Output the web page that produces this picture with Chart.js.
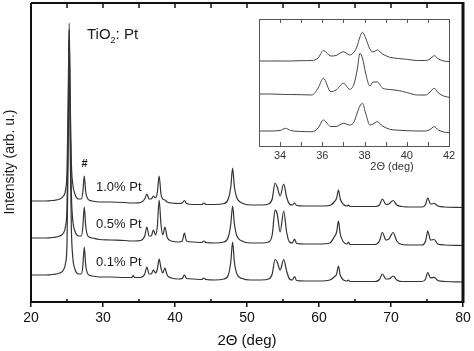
<!DOCTYPE html>
<html>
<head>
<meta charset="utf-8">
<script src="https://cdn.jsdelivr.net/npm/chart.js@4.4.0/dist/chart.umd.min.js"></script>
<style>
  html, body { margin: 0; padding: 0; background: #fff; }
  #wrap { position: relative; width: 474px; height: 351px; }
  #main { position: absolute; left: 0; top: 0; }
  #inset { position: absolute; left: 250px; top: 15px; }
</style>
</head>
<body>
<div id="wrap">
  <canvas id="main" width="474" height="351"></canvas>
  <canvas id="inset" width="210" height="165"></canvas>
</div>
<script>
// 2-theta grid of the main pattern (deg)
const twoTheta = [20, 21, 22, 23, 24, 24.5, 24.8, 25.0, 25.15, 25.3,
  25.45, 25.6, 25.8, 26.1, 26.6, 27.0, 27.2, 27.4, 27.6, 27.9,
  28.5, 29.5, 31, 33, 34.0, 34.2, 34.4, 35.2, 35.8, 36.1,
  36.4, 36.7, 37.0, 37.3, 37.55, 37.8, 38.05, 38.3, 38.6, 38.9,
  39.5, 40.5, 41.0, 41.3, 41.6, 42.5, 43.7, 44.0, 44.3, 45.5,
  46.8, 47.4, 47.75, 48.0, 48.25, 48.6, 49.3, 50.5, 52.0, 53.0,
  53.5, 53.9, 54.2, 54.6, 55.1, 55.5, 55.9, 56.3, 56.6, 56.9,
  58, 60, 61.5, 62.1, 62.45, 62.7, 62.95, 63.4, 63.9, 64.1,
  64.3, 66, 67.8, 68.4, 68.8, 69.3, 69.7, 70.3, 70.8, 71.5,
  73, 74.3, 74.8, 75.1, 75.5, 76.0, 76.5, 77.5, 80];

// intensities as plotted (stacked, arb. u.)
const pt10 = [101, 101, 101, 101.5, 103, 106, 112, 130, 190, 279,
  200, 140, 118, 108, 103, 103, 110, 126, 110, 103,
  101, 100, 100, 99.5, 99, 99, 99, 99.5, 103, 108,
  103, 103, 106, 104, 110, 126, 108, 103, 102, 100,
  99, 98.5, 99, 101.5, 98.5, 97.5, 97.5, 99, 97.5, 97.5,
  98.5, 103, 115, 134, 115, 104, 99, 97, 97, 98,
  103, 119, 115, 106, 118, 105, 98, 97, 99, 96.5,
  96, 96, 96.5, 100, 104, 112, 103, 97.5, 96, 97,
  95.5, 95.5, 95.5, 97, 103, 97.5, 98, 101.5, 97, 95.5,
  95, 95, 97.5, 104, 98, 98.5, 96, 95, 94.5];

const pt05 = [64, 64, 64, 64.5, 66, 69, 76, 95, 170, 272,
  180, 110, 82, 71, 66, 66, 75, 95, 76, 66,
  64, 62.5, 62, 61.5, 61, 61, 61, 61.5, 66, 75,
  66, 66, 72, 67, 76, 102, 78, 67, 75, 65,
  61, 60, 61, 69, 61, 60, 59.5, 61, 59.5, 59,
  60, 65, 78, 96, 78, 66, 61, 59, 59, 60,
  67, 92, 88, 70, 91, 70, 60, 59, 63, 58.5,
  58, 58, 59, 65, 70, 81, 68, 60, 58, 60,
  57.5, 57.5, 57.5, 61, 69.5, 62, 63, 69.5, 61, 57.5,
  57, 57, 61, 71, 62, 62.5, 58, 57, 56.5];

const pt01 = [27, 27, 27, 27.5, 29, 32, 39, 58, 140, 262,
  150, 75, 45, 33, 28, 28, 36, 55, 37, 28,
  26, 25, 25, 24.5, 24.5, 26.5, 24.5, 24.5, 28, 35,
  28, 28, 32, 29, 33, 43, 34, 29, 34, 27,
  24, 23, 23.5, 27, 23.5, 23, 22.5, 24, 22.5, 22,
  23, 27, 40, 60, 40, 28, 23.5, 22, 22, 23,
  28, 42.5, 40, 32, 42.5, 31, 23, 22, 25.3, 21.5,
  21, 21, 22, 25, 28, 36, 27, 22, 21, 22,
  20.5, 20.5, 20.5, 22.5, 28, 23, 23, 26, 22, 20.5,
  20.5, 20.5, 23, 29.5, 24, 24.7, 21.5, 20.5, 20];

// inset: zoom of 33-42 deg
const insetTheta = [33, 33.5, 34.0, 34.25, 34.5, 35.0, 35.5, 35.8, 36.05, 36.4,
  36.65, 37.0, 37.3, 37.5, 37.65, 37.78, 37.9, 38.05, 38.25, 38.4,
  38.6, 38.85, 39.2, 39.6, 40.0, 40.5, 40.9, 41.1, 41.3, 41.5,
  41.75, 42.0];
const insetPt10 = [85, 85, 85, 85, 85, 85.3, 85.5, 88, 95.5, 90,
  90.5, 94.3, 91, 94, 100, 109, 113.7, 108, 97, 94,
  96, 92, 88.7, 87.5, 86.7, 85.5, 85.5, 87, 90.3, 87,
  85, 84.3];
const insetPt05 = [52, 52, 51.7, 51.5, 51.5, 51.3, 51, 58, 67.7, 54.3,
  56, 62.7, 56.7, 62, 76, 92.7, 88, 73, 60, 64,
  64, 58, 56.5, 55.5, 53.5, 51, 51, 54, 57.7, 53,
  50, 48.7];
const insetPt01 = [15, 15, 15.5, 17.7, 15.5, 14.5, 14.3, 18, 26, 19.5,
  19.5, 22.7, 21, 24, 33, 40, 42.7, 33, 21, 22,
  24.3, 20, 16.7, 15.8, 15.3, 15, 15, 16.5, 19.3, 16,
  14, 13.3];

const seriesNames = ["1.0% Pt", "0.5% Pt", "0.1% Pt"];
const mainTickLabels = [20, 30, 40, 50, 60, 70, 80];
const insetTickLabels = [34, 36, 38, 40, 42];

const FONT = "'Liberation Sans', Arial, sans-serif";
Chart.defaults.font.family = FONT;

function toPoints(xs, ys) {
  return xs.map((x, i) => ({ x: x, y: ys[i] }));
}

function lineSet(label, xs, ys, color, width) {
  return {
    label: label,
    data: toPoints(xs, ys),
    borderColor: color,
    borderWidth: width,
    pointRadius: 0,
    fill: false,
    cubicInterpolationMode: "monotone"
  };
}

// frame, inward ticks and the text labels of the main plot
const mainDecor = {
  id: "mainDecor",
  afterDraw(chart) {
    const ctx = chart.ctx;
    const a = chart.chartArea;
    const x = chart.scales.x;
    ctx.save();
    ctx.strokeStyle = "#111";
    ctx.lineWidth = 2;
    ctx.beginPath();
    ctx.moveTo(a.left, a.top);
    ctx.lineTo(a.left, a.bottom);
    ctx.lineTo(a.right, a.bottom);
    ctx.moveTo(a.left, a.top);
    ctx.lineTo(a.right, a.top);
    ctx.stroke();
    ctx.lineWidth = 3;
    ctx.beginPath();
    ctx.moveTo(a.right, a.top - 1);
    ctx.lineTo(a.right, a.bottom + 1);
    ctx.stroke();

    ctx.lineWidth = 1.5;
    ctx.beginPath();
    for (let v = 25; v < 80; v += 5) {
      const px = x.getPixelForValue(v);
      ctx.moveTo(px, a.top);
      ctx.lineTo(px, a.top + 5);
    }
    for (let v = 25; v < 80; v += 10) {
      const px = x.getPixelForValue(v);
      ctx.moveTo(px, a.bottom);
      ctx.lineTo(px, a.bottom - 3);
    }
    ctx.stroke();

    ctx.fillStyle = "#1a1a1a";
    ctx.textBaseline = "alphabetic";
    ctx.textAlign = "left";
    // TiO2: Pt
    let tx = 87;
    ctx.font = "15px " + FONT;
    ctx.fillText("TiO", tx, 39);
    tx += ctx.measureText("TiO").width;
    ctx.font = "9px " + FONT;
    ctx.fillText("2", tx, 43);
    tx += ctx.measureText("2").width;
    ctx.font = "15px " + FONT;
    ctx.fillText(": Pt", tx, 39);

    ctx.font = "13px " + FONT;
    ctx.fillText(seriesNames[0], 96, 191);
    ctx.fillText(seriesNames[1], 96, 228);
    ctx.fillText(seriesNames[2], 96, 266);

    ctx.font = "bold 11px " + FONT;
    ctx.textAlign = "center";
    ctx.fillText("#", 84.5, 167);

    ctx.font = "14px " + FONT;
    ctx.translate(10, 162);
    ctx.rotate(-Math.PI / 2);
    ctx.textBaseline = "middle";
    ctx.fillText("Intensity (arb. u.)", 0, 0);
    ctx.restore();
  }
};

new Chart(document.getElementById("main"), {
  type: "line",
  data: {
    datasets: [
      lineSet(seriesNames[0], twoTheta, pt10, "#333", 1.2),
      lineSet(seriesNames[1], twoTheta, pt05, "#333", 1.2),
      lineSet(seriesNames[2], twoTheta, pt01, "#333", 1.2)
    ]
  },
  options: {
    responsive: false,
    animation: false,
    events: [],
    layout: { padding: { left: 0, right: 11, top: 3, bottom: 0 } },
    plugins: { legend: { display: false }, tooltip: { enabled: false } },
    scales: {
      x: {
        type: "linear",
        min: 20,
        max: 80,
        afterFit: (s) => { s.height = 49; },
        ticks: {
          stepSize: 10,
          maxRotation: 0,
          autoSkip: false,
          padding: 3,
          color: "#111",
          font: { size: 14 },
          callback: (v) => mainTickLabels.includes(v) ? String(v) : ""
        },
        grid: { display: true, drawOnChartArea: false, drawTicks: true, tickLength: 5, color: "#111", lineWidth: 1.5 },
        border: { display: false },
        title: { display: true, text: "2Θ (deg)", color: "#111", font: { size: 15 }, padding: { top: 0, bottom: 1 } }
      },
      y: {
        min: 0,
        max: 299,
        afterFit: (s) => { s.width = 31; },
        ticks: { display: false },
        grid: { display: false },
        border: { display: false }
      }
    }
  },
  plugins: [mainDecor]
});

// inset frame, ticks and axis title
const insetDecor = {
  id: "insetDecor",
  afterDraw(chart) {
    const ctx = chart.ctx;
    const a = chart.chartArea;
    const x = chart.scales.x;
    ctx.save();
    ctx.strokeStyle = "#555";
    ctx.lineWidth = 1;
    ctx.strokeRect(a.left + 0.5, a.top + 0.5, a.right - a.left, a.bottom - a.top);
    ctx.beginPath();
    for (let v = 34; v < 42; v += 1) {
      const px = Math.round(x.getPixelForValue(v)) + 0.5;
      ctx.moveTo(px, a.top);
      ctx.lineTo(px, a.top + 4);
      ctx.moveTo(px, a.bottom);
      ctx.lineTo(px, a.bottom - 4);
    }
    ctx.stroke();
    ctx.fillStyle = "#333";
    ctx.font = "11px " + FONT;
    ctx.textAlign = "center";
    ctx.textBaseline = "middle";
    ctx.fillText("2Θ (deg)", 142, 152);
    ctx.restore();
  }
};

new Chart(document.getElementById("inset"), {
  type: "line",
  data: {
    datasets: [
      lineSet(seriesNames[0], insetTheta, insetPt10, "#444", 1),
      lineSet(seriesNames[1], insetTheta, insetPt05, "#444", 1),
      lineSet(seriesNames[2], insetTheta, insetPt01, "#444", 1)
    ]
  },
  options: {
    responsive: false,
    animation: false,
    events: [],
    layout: { padding: { left: 9, right: 11, top: 4, bottom: 0 } },
    plugins: { legend: { display: false }, tooltip: { enabled: false } },
    scales: {
      x: {
        type: "linear",
        min: 33,
        max: 42,
        afterFit: (s) => { s.height = 34; },
        ticks: {
          stepSize: 1,
          autoSkip: false,
          maxRotation: 0,
          padding: 3,
          color: "#333",
          font: { size: 11 },
          callback: (v) => insetTickLabels.includes(v) ? String(v) : ""
        },
        grid: { display: false, drawTicks: false, tickLength: 0 },
        border: { display: false }
      },
      y: { display: false, min: 0, max: 127 }
    }
  },
  plugins: [insetDecor]
});
</script>
</body>
</html>
